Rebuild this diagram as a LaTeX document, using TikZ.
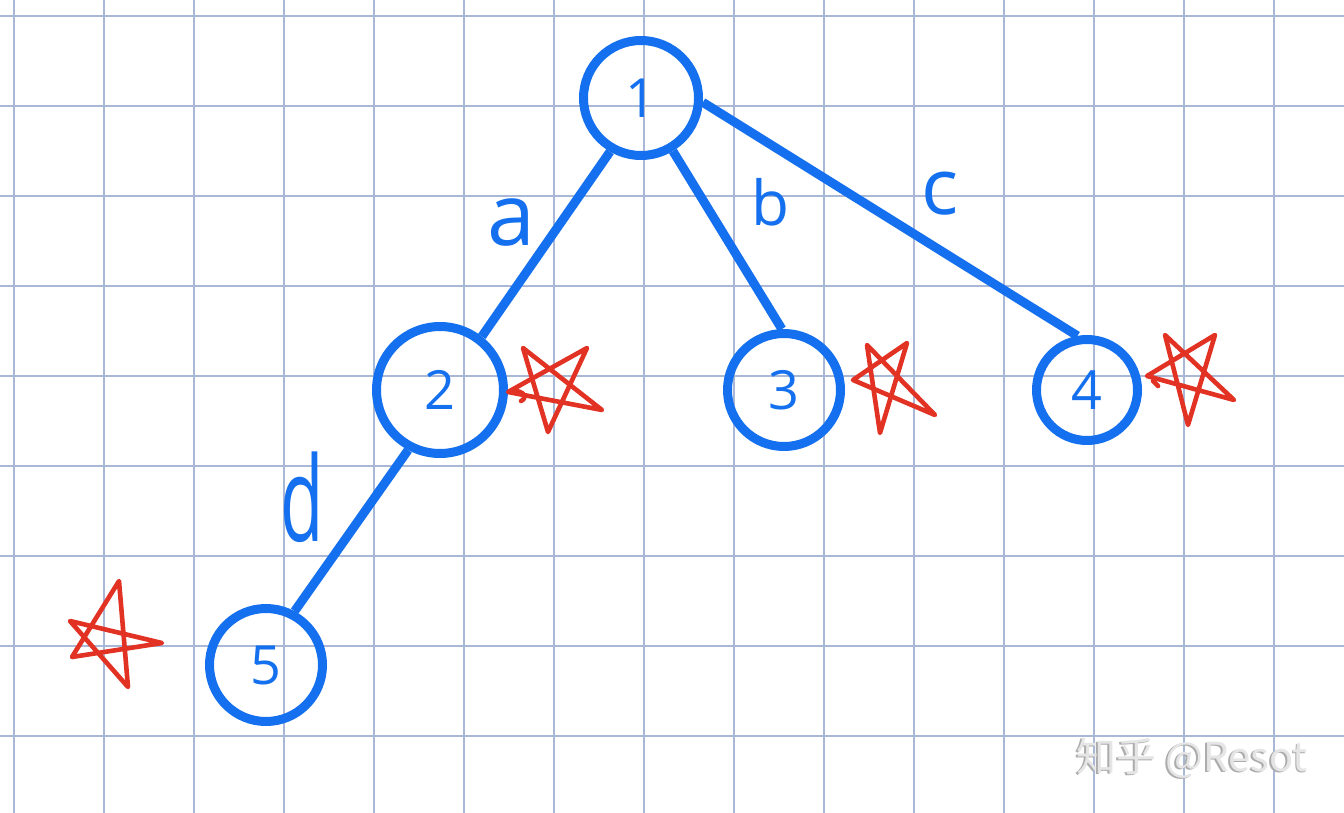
\documentclass[tikz,border=0pt]{standalone}
\usepackage{graphicx}
\usepackage{fontspec}
\setmainfont{Open Sans}
\newfontfamily\cjk{Noto Sans CJK SC}
\definecolor{pen}{RGB}{20,112,238}
\definecolor{redpen}{RGB}{226,50,36}
\definecolor{gridc}{RGB}{168,184,214}
\begin{document}
\begin{tikzpicture}[x=1pt,y=-1pt,
  gridline/.style={draw=gridc,line width=2.4pt},
  vnode/.style={circle,draw=pen,line width=9pt,inner sep=0pt,text=pen,font=\fontsize{54}{54}\selectfont},
  edge/.style={draw=pen,line width=9pt},
  elabel/.style={text=pen,inner sep=0pt},
  starline/.style={draw=redpen,line width=4.6pt,line join=round,line cap=round},
  wmark/.style={inner sep=0pt,font=\cjk\fontsize{40}{40}\selectfont}]
\useasboundingbox[fill=white] (0,0) rectangle (1344,813);
% grid
\foreach \k in {0,...,14} {\draw[gridline] (14+90*\k,0) -- (14+90*\k,813);}
\foreach \k in {0,...,8} {\draw[gridline] (0,16+90*\k) -- (1344,16+90*\k);}
% nodes
\node[vnode,minimum size=115pt] (n1) at (641,98) {1};
\node[vnode,minimum size=127pt] (n2) at (440,390) {2};
\node[vnode,minimum size=113pt] (n3) at (784,390) {3};
\node[vnode,minimum size=101pt] (n4) at (1087,390) {4};
\node[vnode,minimum size=113pt] (n5) at (266,665) {5};
% edges
\draw[edge] (n1.240) -- (n2.52);
\draw[edge] (n1.301) -- (n3.92);
\draw[edge] (n1.356) -- (n4.100);
\draw[edge] (n2.242) -- (n5.62);
% edge labels
\node[elabel,font=\fontsize{86}{86}\selectfont] (la) at (511,223) {a};
\node[elabel,font=\fontsize{62}{62}\selectfont] (lb) at (770,202) {b};
\node[elabel,font=\fontsize{78}{78}\selectfont] (lc) at (940,194) {c};
\node[elabel,font=\fontsize{118}{118}\selectfont] (ld) at (302,497) {\scalebox{0.6}[1]{d}};
% stars
\draw[starline] (523,348) -- (602,410) -- (508,392) -- (587,348) -- (548,432) -- cycle;
\draw[starline] (512,391) .. controls (524,390) and (528,398) .. (521,401);
\draw[starline] (867,345) -- (935,415) -- (853,380) -- (907,343) -- (880,433) -- cycle;
\draw[starline] (1165,335) -- (1234,400) -- (1147,376) -- (1215,335) -- (1188,425) -- cycle;
\draw[starline] (1153,381) -- (1158,386);
\draw[starline] (119,581) -- (128,687) -- (70,621) -- (162,643) -- (72,657) -- cycle;
% watermark
\node[wmark,text=gray!65] (wms) at (1190.5,759.5) {知乎 @Resot};
\node[wmark,text=gray!20] (wm) at (1192,758) {知乎 @Resot};
\end{tikzpicture}
\end{document}
